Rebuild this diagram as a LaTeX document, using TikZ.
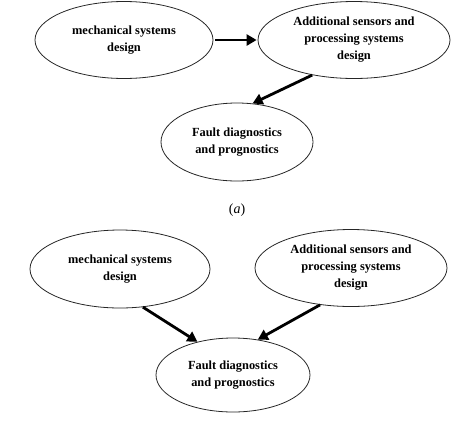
\documentclass[tikz,border=0pt]{standalone}
\usepackage{fontspec}
\setmainfont{Liberation Serif}
\usetikzlibrary{shapes.geometric,arrows.meta}
\begin{document}
\begin{tikzpicture}[x=1pt,y=-1pt,
  oval/.style={ellipse,draw=black!85,line width=0.8pt,inner sep=0pt,align=center,
    font=\fontsize{12.4}{17}\selectfont\bfseries},
  flow/.style={line width=2.8pt,-{Triangle[length=10pt,width=11pt]}}]
\useasboundingbox (0,0) rectangle (474,437);
% (a)
\node[oval,minimum width=178pt,minimum height=77pt] (A1) at (124,40) {mechanical systems\\design};
\node[oval,minimum width=192pt,minimum height=77pt] (B1) at (354,40) {Additional sensors and\\processing systems\\design};
\node[oval,minimum width=152pt,minimum height=78pt] (C1) at (237,142) {Fault diagnostics\\and prognostics};
\node[font=\fontsize{14}{16}\selectfont] (lab) at (237,210) {(\textit{a})};
\draw[flow,shorten <=2pt,shorten >=1pt] (A1) -- (B1);
\draw[flow] (B1.220) -- (C1.68);
% (b)
\node[oval,minimum width=180pt,minimum height=78pt] (A2) at (120,269) {mechanical systems\\design};
\node[oval,minimum width=192pt,minimum height=77pt] (B2) at (351,268) {Additional sensors and\\processing systems\\design};
\node[oval,minimum width=154pt,minimum height=74pt] (C2) at (233,375) {Fault diagnostics\\and prognostics};
\draw[flow] (A2.-59) -- (C2.137);
\draw[flow] (B2.230) -- (C2.55);
\end{tikzpicture}
\end{document}
